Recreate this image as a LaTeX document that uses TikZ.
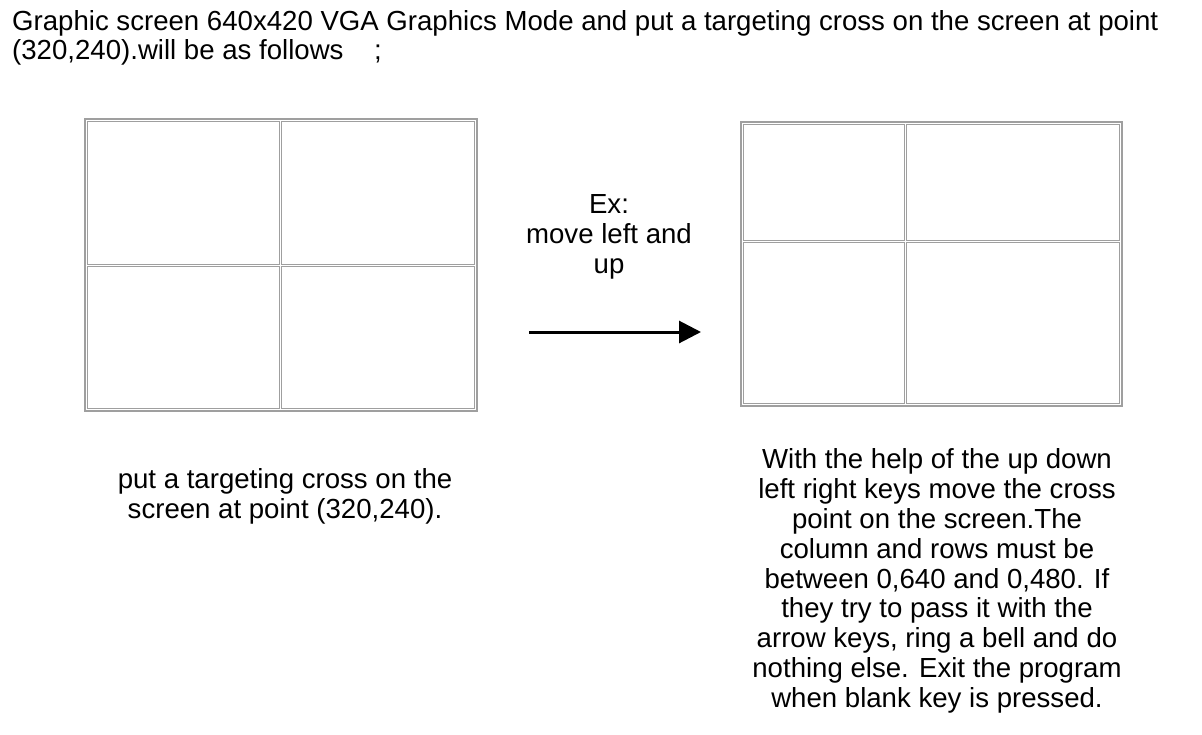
\documentclass[tikz,border=0pt]{standalone}
\usepackage{fontspec}
\setmainfont{Liberation Sans}
\usetikzlibrary{arrows.meta}
\begin{document}
\begin{tikzpicture}[x=1pt,y=-1pt,
  cell/.style={draw=gray!75,line width=1.4pt},
  outer/.style={draw=gray!75,line width=1.4pt},
  txt/.style={font=\fontsize{27.6}{30}\selectfont,inner sep=0pt,align=center}]
\useasboundingbox (0,0) rectangle (1202,734);
\node[txt,anchor=north west,align=left,font=\fontsize{27.6}{29}\selectfont] (title) at (12,10) {Graphic screen 640x420 VGA Graphics Mode and put a targeting cross on the screen at point\\(320,240).will be as follows\ \ \ \ ;};
% left grid
\draw[outer] (85,119) rectangle (477,411);
\draw[cell] (87.5,121.5) rectangle (279.5,264.5);
\draw[cell] (281.5,121.5) rectangle (474.5,264.5);
\draw[cell] (87.5,266.5) rectangle (279.5,408.5);
\draw[cell] (281.5,266.5) rectangle (474.5,408.5);
% right grid
\draw[outer] (741,122) rectangle (1122,406);
\draw[cell] (743.5,124.5) rectangle (904.5,240.5);
\draw[cell] (906.5,124.5) rectangle (1119.5,240.5);
\draw[cell] (743.5,242.5) rectangle (904.5,403.5);
\draw[cell] (906.5,242.5) rectangle (1119.5,403.5);
\node[txt] (ex) at (609,237) {Ex:\\move left and\\up};
\coordinate (a1) at (529,332);
\coordinate (a2) at (701,332);
\draw[line width=3pt,-{Triangle[length=22pt,width=22pt]}] (a1) -- (a2);
\node[txt] (lc) at (285,496) {put a targeting cross on the\\screen at point (320,240).};
\node[txt,font=\fontsize{27.6}{29.8}\selectfont] (rc) at (937,581) {With the help of the up down\\left right keys move the cross\\point on the screen.The\\column and rows must be\\between 0,640 and 0,480. If\\they try to pass it with the\\arrow keys, ring a bell and do\\nothing else. Exit the program\\when blank key is pressed.};
\end{tikzpicture}
\end{document}
